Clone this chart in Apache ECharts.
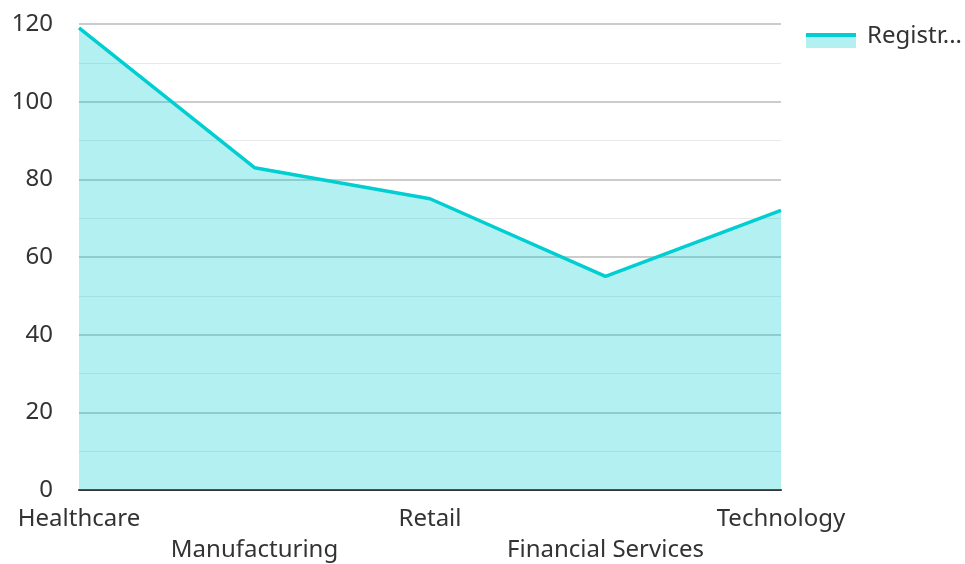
<!DOCTYPE html>
<html>
<head>
<meta charset="utf-8">
<script src="https://cdn.jsdelivr.net/npm/echarts@6/dist/echarts.min.js"></script>
<style>
  html, body { margin: 0; padding: 0; background: #fff; }
  #chart { width: 965px; height: 564px; }
</style>
</head>
<body>
<div id="chart"></div>
<script>
// Registrations by industry
var categories = ['Healthcare', 'Manufacturing', 'Retail', 'Financial Services', 'Technology'];
var registrations = [119, 83, 75, 55, 72];
var yTicks = [0, 20, 40, 60, 80, 100, 120];

(function () {
  'use strict';

  var chart = echarts.init(document.getElementById('chart'));
  var lineColor = '#00CED1';
  var areaColor = 'rgba(0,206,209,0.3)';
  var font = '"Noto Sans", "Open Sans", sans-serif';

  var option = {
    animation: false,
    textStyle: { fontFamily: font },
    grid: {
      left: 79,
      right: 184,
      top: 24,
      bottom: 74,
      outerBoundsMode: 'none'
    },
    legend: {
      right: 3,
      top: 24,
      padding: 0,
      icon: 'rect',
      itemWidth: 55,
      itemHeight: 14,
      itemStyle: { color: 'rgba(0,0,0,0)', borderWidth: 0 },
      textStyle: {
        fontSize: 24,
        color: '#333',
        width: 106,
        overflow: 'truncate',
        ellipsis: '...'
      },
      data: ['Registrations']
    },
    // legend swatch: stroke on top of the light area fill
    graphic: [{
      type: 'rect',
      left: 806,
      top: 37,
      shape: { width: 50, height: 11 },
      style: { fill: areaColor }
    }, {
      type: 'rect',
      left: 806,
      top: 33,
      shape: { width: 50, height: 4 },
      style: { fill: lineColor }
    }],
    xAxis: {
      type: 'category',
      boundaryGap: false,
      data: categories,
      axisLine: { lineStyle: { color: '#333', width: 2 } },
      axisTick: { show: false },
      axisLabel: {
        interval: 0,
        color: '#333',
        fontSize: 24,
        lineHeight: 31,
        margin: 14,
        formatter: function (v, i) {
          return i % 2 === 1 ? '\n' + v : v;
        }
      },
      splitLine: { show: false }
    },
    yAxis: {
      type: 'value',
      min: yTicks[0],
      max: yTicks[yTicks.length - 1],
      interval: 20,
      axisLine: { show: false },
      axisTick: { show: false },
      axisLabel: {
        color: '#333',
        fontSize: 24,
        margin: 26
      },
      splitLine: { lineStyle: { color: '#cccccc', width: 2 } },
      minorTick: { show: false, splitNumber: 2 },
      minorSplitLine: { show: true, lineStyle: { color: '#e8e8e8', width: 1 } }
    },
    series: [{
      name: 'Registrations',
      type: 'line',
      data: registrations,
      symbol: 'none',
      lineStyle: { color: lineColor, width: 3.5 },
      itemStyle: { color: lineColor },
      areaStyle: { color: lineColor, opacity: 0.3 },
      z: 1
    }]
  };

  chart.setOption(option);

  window.addEventListener('resize', function () {
    chart.resize();
  });
})();
</script>
</body>
</html>
